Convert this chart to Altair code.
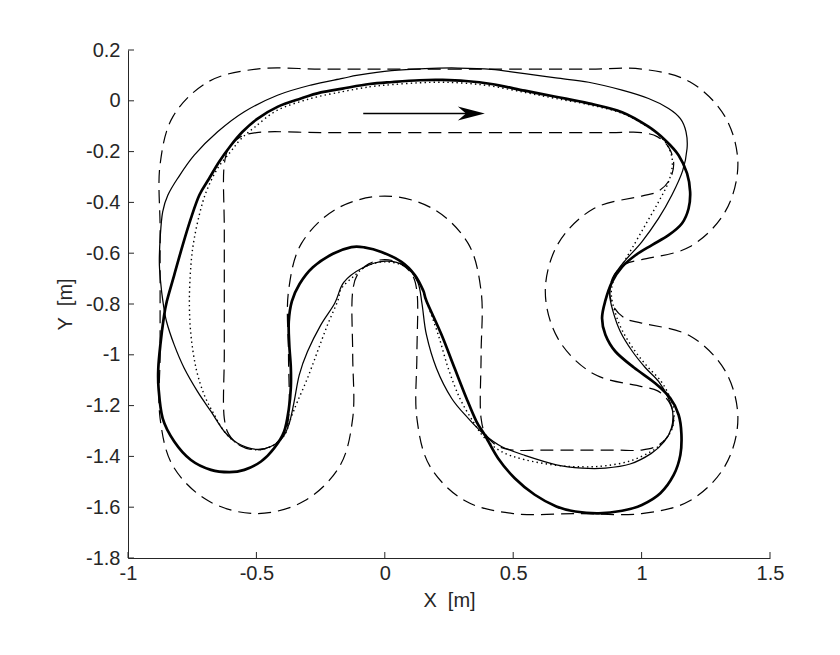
import altair as alt
import pandas as pd

# ---------------- data (metres) ----------------
X_TICKS = [-1, -0.5, 0, 0.5, 1, 1.5]
Y_TICKS = [0.2, 0, -0.2, -0.4, -0.6, -0.8, -1, -1.2, -1.4, -1.6, -1.8]

# outer track border (dashed)
BORDER_A = [
    (0.25, 0.125), (0.5, 0.125), (0.8, 0.125), (1.0, 0.125),
    (1.1875, 0.075), (1.325, -0.0625), (1.375, -0.25), (1.325, -0.4375), (1.1875, -0.575), (1.0, -0.625),
    (0.9375, -0.642), (0.892, -0.6875), (0.875, -0.75), (0.892, -0.8125), (0.9375, -0.858), (1.0, -0.875),
    (1.1875, -0.925), (1.325, -1.0625), (1.375, -1.25), (1.325, -1.4375), (1.1875, -1.575), (1.0, -1.625),
    (0.75, -1.625), (0.5, -1.625),
    (0.3125, -1.575), (0.175, -1.4375), (0.125, -1.25),
    (0.125, -1.0), (0.125, -0.75),
    (0.108, -0.6875), (0.0625, -0.642), (0.0, -0.625), (-0.0625, -0.642), (-0.108, -0.6875), (-0.125, -0.75),
    (-0.125, -1.0), (-0.125, -1.25),
    (-0.175, -1.4375), (-0.3125, -1.575), (-0.5, -1.625), (-0.6875, -1.575), (-0.825, -1.4375), (-0.875, -1.25),
    (-0.875, -1.0), (-0.875, -0.75), (-0.875, -0.5), (-0.875, -0.25),
    (-0.825, -0.0625), (-0.6875, 0.075), (-0.5, 0.125),
    (-0.25, 0.125), (0.0, 0.125), (0.25, 0.125),
]

# inner track border (dashed)
BORDER_B = [
    (0.25, -0.125), (0.5, -0.125), (0.75, -0.125), (0.9, -0.125), (1.0, -0.125),
    (1.0625, -0.142), (1.108, -0.1875), (1.125, -0.25), (1.108, -0.3125), (1.0625, -0.358), (1.0, -0.375),
    (0.8125, -0.425), (0.675, -0.5625), (0.625, -0.75), (0.675, -0.9375), (0.8125, -1.075), (1.0, -1.125),
    (1.0625, -1.142), (1.108, -1.1875), (1.125, -1.25), (1.108, -1.3125), (1.0625, -1.358), (1.0, -1.375),
    (0.9, -1.375), (0.75, -1.375), (0.6, -1.375), (0.5, -1.375),
    (0.4375, -1.358), (0.392, -1.3125), (0.375, -1.25),
    (0.375, -1.0), (0.375, -0.75),
    (0.325, -0.5625), (0.1875, -0.425), (0.0, -0.375), (-0.1875, -0.425), (-0.325, -0.5625), (-0.375, -0.75),
    (-0.375, -1.0), (-0.375, -1.25),
    (-0.392, -1.3125), (-0.4375, -1.358), (-0.5, -1.375), (-0.5625, -1.358), (-0.608, -1.3125), (-0.625, -1.25),
    (-0.625, -1.0), (-0.625, -0.75), (-0.625, -0.5), (-0.625, -0.25),
    (-0.608, -0.1875), (-0.5625, -0.142), (-0.5, -0.125),
    (-0.25, -0.125), (0.0, -0.125), (0.25, -0.125),
]

# thick solid trajectory
THICK = [
    (-0.165, 0.048), (-0.06, 0.066), (0.03, 0.074), (0.135, 0.081), (0.225, 0.082), (0.315, 0.078),
    (0.415, 0.066), (0.545, 0.040), (0.666, 0.016), (0.794, -0.010), (0.924, -0.045), (1.027, -0.102),
    (1.092, -0.155), (1.144, -0.214), (1.177, -0.286), (1.189, -0.358), (1.183, -0.424), (1.157, -0.483),
    (1.105, -0.529), (1.040, -0.568), (0.976, -0.608), (0.924, -0.654), (0.885, -0.713), (0.858, -0.790),
    (0.846, -0.856), (0.859, -0.921), (0.898, -0.987), (0.970, -1.050), (1.053, -1.112), (1.112, -1.171),
    (1.144, -1.236), (1.155, -1.311), (1.151, -1.394), (1.125, -1.473), (1.073, -1.545), (1.001, -1.591),
    (0.924, -1.614), (0.833, -1.624), (0.742, -1.617), (0.668, -1.597), (0.584, -1.551), (0.506, -1.486),
    (0.441, -1.407), (0.389, -1.315), (0.357, -1.263), (0.318, -1.171), (0.272, -1.053), (0.221, -0.921),
    (0.163, -0.790), (0.150, -0.748), (0.117, -0.686), (0.065, -0.634), (-0.013, -0.595), (-0.080, -0.577),
    (-0.130, -0.576), (-0.202, -0.602), (-0.280, -0.655), (-0.332, -0.721), (-0.362, -0.790), (-0.374, -0.870),
    (-0.372, -0.960), (-0.366, -1.050), (-0.366, -1.130), (-0.374, -1.215), (-0.392, -1.302), (-0.431, -1.368),
    (-0.482, -1.420), (-0.547, -1.453), (-0.605, -1.462), (-0.677, -1.453), (-0.755, -1.414), (-0.820, -1.341),
    (-0.865, -1.250), (-0.881, -1.131), (-0.882, -1.053), (-0.874, -0.961), (-0.861, -0.856), (-0.849, -0.790),
    (-0.820, -0.686), (-0.787, -0.568), (-0.755, -0.463), (-0.722, -0.371), (-0.684, -0.306), (-0.645, -0.240),
    (-0.599, -0.175), (-0.554, -0.122), (-0.495, -0.070), (-0.418, -0.024), (-0.327, 0.009), (-0.249, 0.033),
]

# thin solid trajectory
THIN = [
    (-0.165, 0.088), (-0.104, 0.101), (0.026, 0.119), (0.156, 0.127), (0.285, 0.129), (0.415, 0.124),
    (0.545, 0.107), (0.666, 0.090), (0.794, 0.073), (0.924, 0.042), (1.027, 0.009), (1.105, -0.030),
    (1.151, -0.070), (1.173, -0.122), (1.177, -0.188), (1.160, -0.275), (1.118, -0.371), (1.066, -0.463),
    (1.001, -0.555), (0.935, -0.630), (0.893, -0.690), (0.876, -0.760), (0.889, -0.830), (0.917, -0.908),
    (0.963, -0.985), (1.014, -1.050), (1.066, -1.105), (1.103, -1.168), (1.121, -1.225), (1.116, -1.289),
    (1.088, -1.342), (1.038, -1.388), (0.955, -1.430), (0.859, -1.446), (0.768, -1.446), (0.668, -1.433),
    (0.545, -1.396), (0.454, -1.361), (0.389, -1.315), (0.325, -1.250), (0.260, -1.171), (0.201, -1.053),
    (0.162, -0.921), (0.145, -0.800), (0.128, -0.713), (0.078, -0.650), (0.0, -0.631), (-0.091, -0.660),
    (-0.160, -0.715), (-0.195, -0.797), (-0.249, -0.882), (-0.301, -0.987), (-0.333, -1.079), (-0.353, -1.184),
    (-0.372, -1.270), (-0.398, -1.326), (-0.444, -1.361), (-0.502, -1.372), (-0.573, -1.348), (-0.625, -1.302),
    (-0.677, -1.223), (-0.729, -1.145), (-0.781, -1.053), (-0.820, -0.961), (-0.850, -0.869), (-0.864, -0.790),
    (-0.873, -0.713), (-0.878, -0.634), (-0.874, -0.529), (-0.865, -0.437), (-0.845, -0.372), (-0.807, -0.306),
    (-0.742, -0.214), (-0.651, -0.122), (-0.547, -0.043), (-0.418, 0.022), (-0.288, 0.062),
]

# dotted trajectory
DOTTED = [
    (-0.165, 0.036), (-0.06, 0.055), (0.03, 0.064), (0.135, 0.071), (0.225, 0.073), (0.315, 0.069),
    (0.415, 0.058), (0.545, 0.033), (0.666, 0.009), (0.794, -0.015), (0.924, -0.049), (1.020, -0.100),
    (1.075, -0.142), (1.108, -0.190), (1.120, -0.247), (1.105, -0.319), (1.066, -0.398), (1.014, -0.490),
    (0.963, -0.580), (0.922, -0.650), (0.893, -0.700), (0.882, -0.760), (0.896, -0.830), (0.925, -0.905),
    (0.972, -0.982), (1.023, -1.047), (1.074, -1.102), (1.110, -1.166), (1.126, -1.225), (1.119, -1.290),
    (1.088, -1.338), (1.038, -1.380), (0.955, -1.418), (0.859, -1.437), (0.768, -1.441), (0.668, -1.435),
    (0.545, -1.413), (0.454, -1.381), (0.389, -1.328), (0.344, -1.263), (0.292, -1.171), (0.247, -1.053),
    (0.208, -0.921), (0.166, -0.800), (0.135, -0.718), (0.078, -0.652), (0.0, -0.634), (-0.070, -0.650),
    (-0.120, -0.690), (-0.169, -0.739), (-0.184, -0.790), (-0.223, -0.882), (-0.262, -0.987), (-0.301, -1.092),
    (-0.340, -1.184), (-0.366, -1.250), (-0.390, -1.315), (-0.435, -1.358), (-0.502, -1.374), (-0.573, -1.350),
    (-0.625, -1.302), (-0.664, -1.236), (-0.703, -1.158), (-0.735, -1.053), (-0.755, -0.921), (-0.761, -0.790),
    (-0.755, -0.647), (-0.742, -0.542), (-0.716, -0.424), (-0.690, -0.345), (-0.651, -0.266), (-0.600, -0.200),
    (-0.560, -0.150), (-0.508, -0.105), (-0.418, -0.037), (-0.288, 0.009),
]

# direction arrow
ARROW_X = [-0.084, 0.33]
ARROW_Y = [-0.05, -0.05]
ARROW_HEAD_X = [0.337]
ARROW_HEAD_Y = [-0.05]

# ---------------- chart ----------------
INK = "#262626"
FONT = "Liberation Sans"
W, H = 642, 508


def path_df(pts):
    return pd.DataFrame({"x": [p[0] for p in pts], "y": [p[1] for p in pts], "i": list(range(len(pts)))})


x_axis = alt.Axis(values=X_TICKS, labelExpr="'' + datum.value", title="X\u00a0\u00a0[m]",
                  ticks=False, grid=False, domainColor=INK, domainWidth=1, labelFlush=False,
                  labelFont=FONT, labelFontSize=20, labelColor=INK, labelPadding=5,
                  titleFont=FONT, titleFontSize=20, titleFontWeight="normal", titleColor=INK,
                  titlePadding=7)
y_axis = alt.Axis(values=Y_TICKS, labelExpr="'' + datum.value", title="Y\u00a0\u00a0[m]",
                  ticks=False, grid=False, domainColor=INK, domainWidth=1, labelFlush=False,
                  labelFont=FONT, labelFontSize=20, labelColor=INK, labelPadding=8,
                  titleFont=FONT, titleFontSize=20, titleFontWeight="normal", titleColor=INK,
                  titlePadding=10)

xs = alt.Scale(domain=[-1, 1.5], nice=False, zero=False)
ys = alt.Scale(domain=[-1.8, 0.2], nice=False, zero=False)
X = alt.X("x:Q", scale=xs, axis=x_axis)
Y = alt.Y("y:Q", scale=ys, axis=y_axis)
O = alt.Order("i:Q")


def border_layer(pts):
    return alt.Chart(path_df(pts + [pts[0]])).mark_line(
        interpolate="catmull-rom", color="black", strokeWidth=1.2, strokeDash=[13, 7]
    ).encode(x=X, y=Y, order=O)


border_a = border_layer(BORDER_A)
border_b = border_layer(BORDER_B)

dotted = alt.Chart(path_df(DOTTED)).mark_line(
    interpolate="cardinal-closed", color="black", strokeWidth=1.4, strokeDash=[1.4, 3.2]
).encode(x=X, y=Y, order=O)

thin = alt.Chart(path_df(THIN)).mark_line(
    interpolate="cardinal-closed", color="black", strokeWidth=1.25
).encode(x=X, y=Y, order=O)

thick = alt.Chart(path_df(THICK)).mark_line(
    interpolate="cardinal-closed", color="black", strokeWidth=2.7
).encode(x=X, y=Y, order=O)

arrow_line = alt.Chart(pd.DataFrame({"x": ARROW_X, "y": ARROW_Y, "i": [0, 1]})).mark_line(
    color="black", strokeWidth=1.4
).encode(x=X, y=Y, order=O)

arrow_head = alt.Chart(pd.DataFrame({"x": ARROW_HEAD_X, "y": ARROW_HEAD_Y})).mark_point(
    shape="M1,0L-1,-0.52L-0.4,0L-1,0.52Z", filled=True, size=729, color="black",
    opacity=1, strokeWidth=0
).encode(x=X, y=Y)

x_ticks = alt.Chart(pd.DataFrame({"x": X_TICKS})).mark_rule(color=INK, strokeWidth=1).encode(
    x=X, y=alt.value(H), y2=alt.value(H - 6)
)
y_ticks = alt.Chart(pd.DataFrame({"y": Y_TICKS})).mark_rule(color=INK, strokeWidth=1).encode(
    y=Y, x=alt.value(0), x2=alt.value(6)
)

chart = alt.layer(
    border_a, border_b, dotted, thin, thick, arrow_line, arrow_head, x_ticks, y_ticks
).properties(
    width=W, height=H,
    autosize=alt.AutoSizeParams(type="none"),
    padding={"left": 120, "top": 42, "right": 62, "bottom": 90},
    background="white",
).configure_view(stroke=None, fill="white")

chart.save("out.html", embed_options={"renderer": "svg", "actions": False})
